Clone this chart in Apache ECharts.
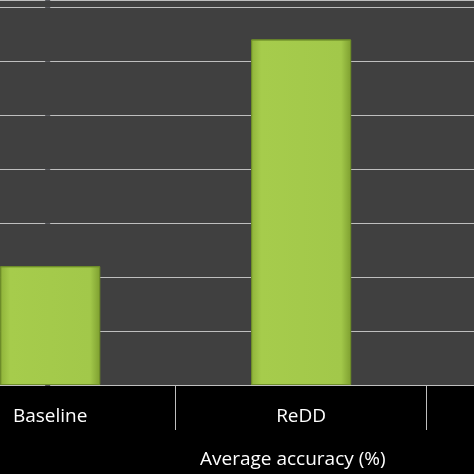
<!DOCTYPE html>
<html>
<head>
<meta charset="utf-8">
<script src="https://cdn.jsdelivr.net/npm/echarts@6/dist/echarts.min.js"></script>
<style>html,body{margin:0;background:#000}#c{width:474px;height:474px}</style>
</head>
<body>
<div id="c"></div>
<script>
const categories = ['Baseline', 'ReDD'];
const accuracy = [2.2, 6.4];
const yTicks = [0, 1, 2, 3, 4, 5, 6, 7];

const chart = echarts.init(document.getElementById('c'));
chart.setOption({
  backgroundColor: '#000',
  grid: { left: 0, right: 0, top: 0, bottom: 89, show: true, backgroundColor: '#404040', borderWidth: 0 },
  xAxis: {
    type: 'value',
    min: -0.2,
    max: 1.689,
    splitLine: { show: false },
    axisLine: { lineStyle: { color: '#bfbfbf', width: 1 } },
    axisTick: { show: true, length: 45, customValues: [0.5, 1.5], lineStyle: { color: '#bfbfbf' } },
    axisLabel: {
      customValues: [0, 1],
      formatter: v => categories[Math.round(v)],
      color: '#fff', fontSize: 19, margin: 22, fontFamily: 'Open Sans'
    }
  },
  yAxis: {
    type: 'value',
    min: yTicks[0],
    max: 7.13,
    interval: 1,
    axisLabel: { show: false },
    axisLine: { show: false },
    splitLine: { lineStyle: { color: '#bfbfbf', width: 1 } }
  },
  graphic: [{
    type: 'text', left: 200, top: 450,
    style: { text: 'Average accuracy (%)', fill: '#fff', fontSize: 19, fontFamily: 'Open Sans' }
  }],
  series: [{
    type: 'bar',
    data: accuracy.map((v, i) => [i, v]),
    barWidth: 100,
    itemStyle: {
      color: new echarts.graphic.LinearGradient(0, 0, 1, 0, [
        { offset: 0, color: '#8fb33a' },
        { offset: 0.1, color: '#a6cc4c' },
        { offset: 0.9, color: '#a2c84a' },
        { offset: 1, color: '#7e9f30' }
      ]),
      borderColor: '#6f8e2a',
      borderWidth: 1
    }
  }]
});
</script>
</body>
</html>
